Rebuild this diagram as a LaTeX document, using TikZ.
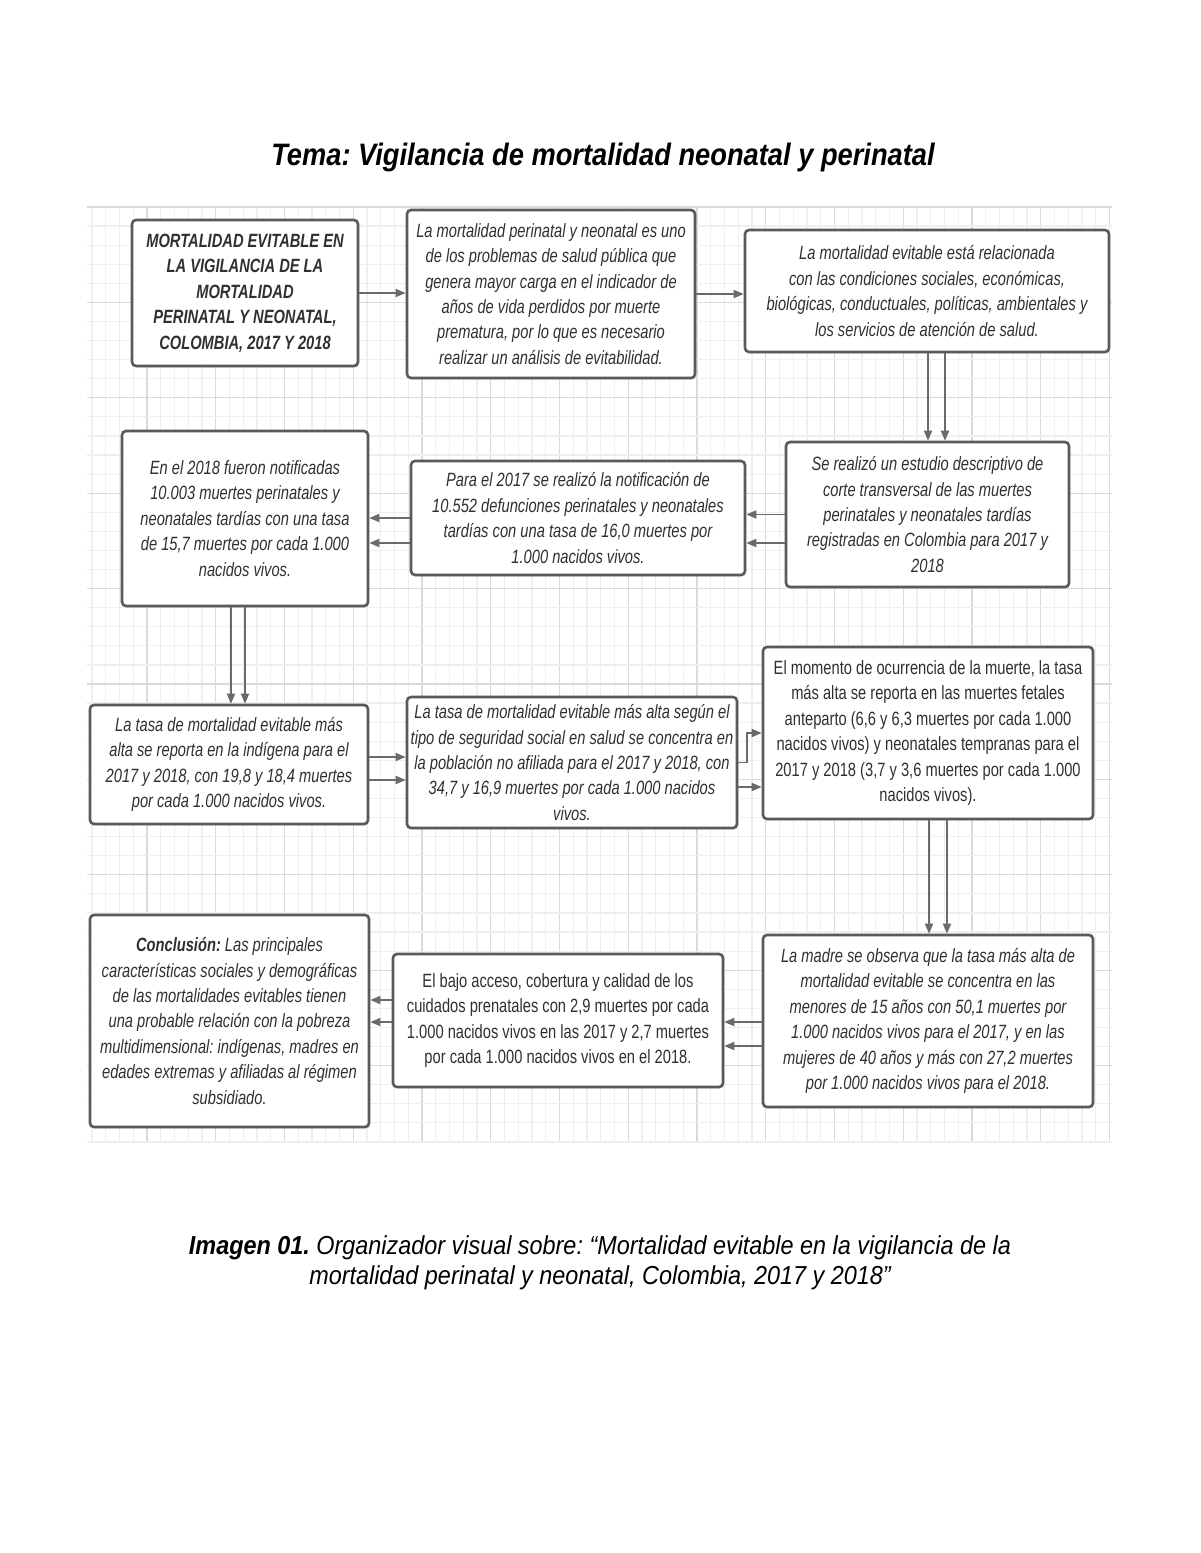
\documentclass[tikz,border=0pt]{standalone}
\usepackage{fontspec}
\usetikzlibrary{arrows.meta,shadows}
\newfontfamily\boxfont[FakeStretch=0.765]{Liberation Sans}
\newfontfamily\titlefont[FakeStretch=0.88]{Liberation Sans}
\newfontfamily\capfont[FakeStretch=0.9]{Liberation Sans}
\definecolor{gridminor}{HTML}{EFEFEF}
\definecolor{gridmajor}{HTML}{DADADA}
\definecolor{boxline}{HTML}{5A5A5A}
\definecolor{arrowline}{HTML}{6A6A6A}
\definecolor{txt}{HTML}{303030}
\tikzset{
  box/.style={draw=boxline, line width=1.3pt, rounded corners=2pt, fill=white,
    align=center, inner sep=0pt, text=txt,
    drop shadow={shadow xshift=0.5pt, shadow yshift=-0.7pt, fill=black!40, opacity=0.5},
    font=\boxfont\fontsize{9.6}{12.7}\selectfont},
  arr/.style={draw=arrowline, line width=0.9pt,
    -{Triangle[length=5pt,width=4pt]}},
}
\begin{document}
\frenchspacing
\begin{tikzpicture}[x=0.5pt,y=-0.5pt]
\useasboundingbox[fill=white] (0,0) rectangle (1200,1553);
% grid
\foreach \k in {0,...,74} {
  \pgfmathtruncatemacro{\m}{mod(\k,5)}
  \ifnum\m=4
    \draw[gridmajor, line width=0.6pt] ({92+13.75*\k},207) -- ({92+13.75*\k},1142);
  \else
    \draw[gridminor, line width=0.6pt] ({92+13.75*\k},207) -- ({92+13.75*\k},1142);
  \fi
}
\foreach \j in {0,...,49} {
  \pgfmathtruncatemacro{\m}{mod(\j,5)}
  \ifnum\m=0
    \draw[gridmajor, line width=0.6pt] (87,{207+19.08*\j}) -- (1112,{207+19.08*\j});
  \else
    \draw[gridminor, line width=0.6pt] (87,{207+19.08*\j}) -- (1112,{207+19.08*\j});
  \fi
}
% title
\node[font=\titlefont\bfseries\itshape\fontsize{15.5}{18}\selectfont, text=black] (title) at (603,157)
  {Tema: Vigilancia de mortalidad neonatal y perinatal};
% boxes
\node[box, minimum width=113pt, minimum height=73pt] (b1) at (245,293)
  {\bfseries\itshape MORTALIDAD EVITABLE EN\\ \bfseries\itshape LA VIGILANCIA DE LA\\ \bfseries\itshape MORTALIDAD\\ \bfseries\itshape PERINATAL Y NEONATAL,\\ \bfseries\itshape COLOMBIA, 2017 Y 2018};
\node[box, minimum width=144pt, minimum height=84pt] (b2) at (551,294)
  {\itshape La mortalidad perinatal y neonatal es uno\\ \itshape de los problemas de salud pública que\\ \itshape genera mayor carga en el indicador de\\ \itshape años de vida perdidos por muerte\\ \itshape prematura, por lo que es necesario\\ \itshape realizar un análisis de evitabilidad.};
\node[box, minimum width=182pt, minimum height=61pt] (b3) at (927,291)
  {\itshape La mortalidad evitable está relacionada\\ \itshape con las condiciones sociales, económicas,\\ \itshape biológicas, conductuales, políticas, ambientales y\\ \itshape los servicios de atención de salud.};
\node[box, minimum width=141.5pt, minimum height=72.5pt] (b4) at (927.5,514.5)
  {\itshape Se realizó un estudio descriptivo de\\ \itshape corte transversal de las muertes\\ \itshape perinatales y neonatales tardías\\ \itshape registradas en Colombia para 2017 y\\ \itshape 2018};
\node[box, minimum width=167pt, minimum height=57pt] (b5) at (578,518)
  {\itshape Para el 2017 se realizó la notificación de\\ \itshape 10.552 defunciones perinatales y neonatales\\ \itshape tardías con una tasa de 16,0 muertes por\\ \itshape 1.000 nacidos vivos.};
\node[box, minimum width=123pt, minimum height=87.5pt] (b6) at (245,518.5)
  {\itshape En el 2018 fueron notificadas\\ \itshape 10.003 muertes perinatales y\\ \itshape neonatales tardías con una tasa\\ \itshape de 15,7 muertes por cada 1.000\\ \itshape nacidos vivos.};
\node[box, minimum width=139pt, minimum height=59.5pt] (b7) at (229,764.5)
  {\itshape La tasa de mortalidad evitable más\\ \itshape alta se reporta en la indígena para el\\ \itshape 2017 y 2018, con 19,8 y 18,4 muertes\\ \itshape por cada 1.000 nacidos vivos.};
\node[box, minimum width=165pt, minimum height=65.5pt] (b8) at (572,762.5)
  {\itshape La tasa de mortalidad evitable más alta según el\\ \itshape tipo de seguridad social en salud se concentra en\\ \itshape la población no afiliada para el 2017 y 2018, con\\ \itshape 34,7 y 16,9 muertes por cada 1.000 nacidos\\ \itshape vivos.};
\node[box, minimum width=165pt, minimum height=86pt] (b9) at (928,733)
  {El momento de ocurrencia de la muerte, la tasa\\ más alta se reporta en las muertes fetales\\ anteparto (6,6 y 6,3 muertes por cada 1.000\\ nacidos vivos) y neonatales tempranas para el\\ 2017 y 2018 (3,7 y 3,6 muertes por cada 1.000\\ nacidos vivos).};
\node[box, minimum width=165pt, minimum height=86pt] (b10) at (928,1021)
  {\itshape La madre se observa que la tasa más alta de\\ \itshape mortalidad evitable se concentra en las\\ \itshape menores de 15 años con 50,1 muertes por\\ \itshape 1.000 nacidos vivos para el 2017, y en las\\ \itshape mujeres de 40 años y más con 27,2 muertes\\ \itshape por 1.000 nacidos vivos para el 2018.};
\node[box, minimum width=165pt, minimum height=66.5pt] (b11) at (558,1020.5)
  {El bajo acceso, cobertura y calidad de los\\ cuidados prenatales con 2,9 muertes por cada\\ 1.000 nacidos vivos en las 2017 y 2,7 muertes\\ por cada 1.000 nacidos vivos en el 2018.};
\node[box, minimum width=139.5pt, minimum height=106pt] (b12) at (229.5,1021)
  {\itshape\textbf{Conclusión:} Las principales\\ \itshape características sociales y demográficas\\ \itshape de las mortalidades evitables tienen\\ \itshape una probable relación con la pobreza\\ \itshape multidimensional: indígenas, madres en\\ \itshape edades extremas y afiliadas al régimen\\ \itshape subsidiado.};
% connectors
\draw[arr] (b1.east) -- (b1.east -| b2.west);
\draw[arr] (b2.east) -- (b2.east -| b3.west);
\draw[arr] ([xshift=0.5pt]b3.south) -- ([xshift=0.5pt]b3.south |- b4.north);
\draw[arr] ([xshift=9pt]b3.south) -- ([xshift=9pt]b3.south |- b4.north);
\draw[arr] (b4.west) -- (b4.west -| b5.east);
\draw[arr] ([yshift=-14.25pt]b4.west) -- ([yshift=-14.25pt]b4.west -| b5.east);
\draw[arr] (b5.west) -- (b5.west -| b6.east);
\draw[arr] ([yshift=-12.5pt]b5.west) -- ([yshift=-12.5pt]b5.west -| b6.east);
\draw[arr] ([xshift=-7pt]b6.south) -- ([xshift=-7pt]b6.south |- b7.north);
\draw[arr] (b6.south) -- (b6.south |- b7.north);
\draw[arr] ([yshift=3.75pt]b7.east) -- ([yshift=3.75pt]b7.east -| b8.west);
\draw[arr] ([yshift=-7.75pt]b7.east) -- ([yshift=-7.75pt]b7.east -| b8.west);
\draw[arr] (b8.east) -- ++(4.5pt,0) |- (b9.west);
\draw[arr] ([yshift=-12.25pt]b8.east) -- ([yshift=-12.25pt]b8.east -| b9.west);
\draw[arr] ([xshift=0.5pt]b9.south) -- ([xshift=0.5pt]b9.south |- b10.north);
\draw[arr] ([xshift=9.5pt]b9.south) -- ([xshift=9.5pt]b9.south |- b10.north);
\draw[arr] ([yshift=-0.5pt]b10.west) -- ([yshift=-0.5pt]b10.west -| b11.east);
\draw[arr] ([yshift=-12.5pt]b10.west) -- ([yshift=-12.5pt]b10.west -| b11.east);
\draw[arr] ([yshift=10.25pt]b11.west) -- ([yshift=10.25pt]b11.west -| b12.east);
\draw[arr] ([yshift=-0.75pt]b11.west) -- ([yshift=-0.75pt]b11.west -| b12.east);
% caption
\node[font=\capfont\fontsize{13}{15}\selectfont, text=black, align=center] (caption) at (600,1263)
  {\bfseries\itshape Imagen 01.\mdseries\itshape{} Organizador visual sobre: “Mortalidad evitable en la vigilancia de la\\ \itshape mortalidad perinatal y neonatal, Colombia, 2017 y 2018”};
\end{tikzpicture}
\end{document}
